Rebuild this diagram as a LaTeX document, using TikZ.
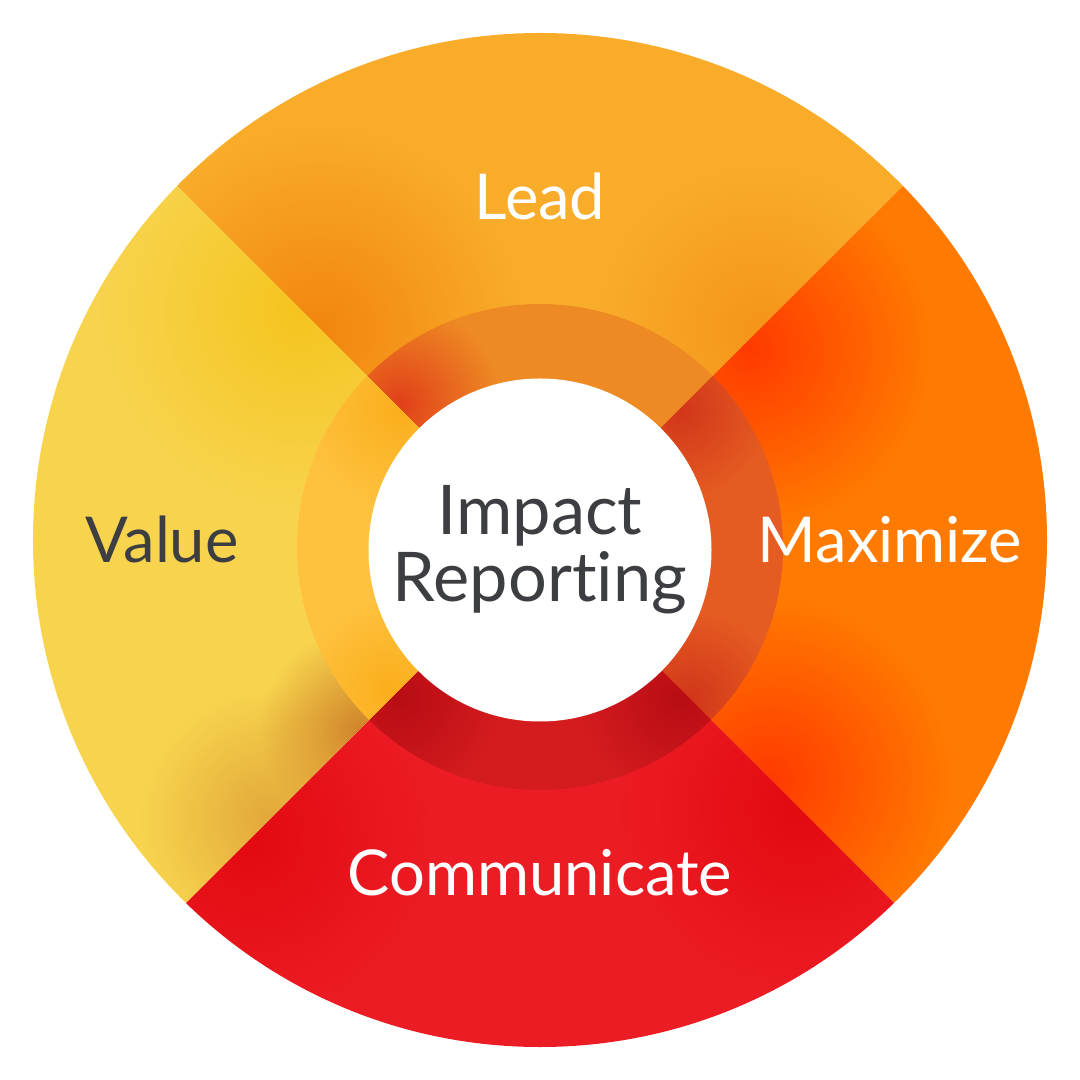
\documentclass[tikz,border=0pt]{standalone}
\usepackage{fontspec}
\setmainfont{Lato}[Ligatures=NoCommon]
\usetikzlibrary{fadings}
\tikzfading[name=glowfade, inner color=transparent!0, outer color=transparent!100]
\definecolor{leadbase}{HTML}{F9AC2A}
\definecolor{leadglow}{HTML}{F2860E}
\definecolor{leadring}{HTML}{EE8A24}
\definecolor{leadringglow}{HTML}{E2401A}
\definecolor{maxbase}{HTML}{FF7A00}
\definecolor{maxglow}{HTML}{FF3A00}
\definecolor{maxring}{HTML}{E55C22}
\definecolor{maxringglow}{HTML}{D2361A}
\definecolor{combase}{HTML}{EC1C24}
\definecolor{comglow}{HTML}{E30A10}
\definecolor{comring}{HTML}{D41C1E}
\definecolor{comringglow}{HTML}{B80D14}
\definecolor{valbase}{HTML}{F8D44E}
\definecolor{valglow}{HTML}{F5C41E}
\definecolor{valshadow}{HTML}{D0842A}
\definecolor{valring}{HTML}{FFC23F}
\definecolor{valringglow}{HTML}{FBAE1C}
\definecolor{labelgray}{HTML}{3D3E42}
\tikzset{
  quadlabel/.style={anchor=base, inner sep=0pt, text=white, font=\fontsize{18}{21}\selectfont},
  hublabel/.style={align=center, inner sep=0pt, text=labelgray, font=\fontsize{19.5}{19}\selectfont},
  glow/.style={path fading=glowfade},
}
\begin{document}
\begin{tikzpicture}
\useasboundingbox (-5.40,-5.31) rectangle (5.40,5.49);
\coordinate (hub) at (0,0);
\coordinate (rim) at (0,0.09);
\coordinate (ringc) at (0,0.02);
\begin{scope}
\clip (rim) circle (5.07);
% Lead
\begin{scope}
\clip (hub) -- (-6,6) -- (6,6) -- cycle;
\fill[leadbase] (-6,-1) rectangle (6,6);
\fill[leadglow, glow] (-2.2,2.2) circle (2.0);
\fill[leadglow!60!leadbase, glow] (2.2,2.2) circle (1.6);
\fill[leadring] (ringc) circle (2.43);
\clip (ringc) circle (2.43);
\fill[leadringglow, glow] (-1.4,1.45) circle (1.0);
\end{scope}
% Maximize
\begin{scope}
\clip (hub) -- (6,6) -- (6,-6) -- cycle;
\fill[maxbase] (-1,-6) rectangle (6,6);
\fill[maxglow, glow] (2.1,2.0) circle (1.8);
\fill[maxglow, glow] (2.3,-2.3) circle (1.8);
\fill[maxring] (ringc) circle (2.43);
\clip (ringc) circle (2.43);
\fill[maxringglow, glow] (1.4,1.4) circle (0.9);
\fill[maxringglow, glow] (1.5,-1.5) circle (0.9);
\end{scope}
% Communicate
\begin{scope}
\clip (hub) -- (6,-6) -- (-6,-6) -- cycle;
\fill[combase] (-6,-6) rectangle (6,1);
\fill[comglow, glow] (-2.9,-2.9) circle (1.8);
\fill[comglow, glow] (2.6,-2.6) circle (1.8);
\fill[comring] (ringc) circle (2.43);
\clip (ringc) circle (2.43);
\fill[comringglow, glow] (-1.4,-1.5) circle (1.0);
\fill[comringglow, glow] (1.4,-1.5) circle (1.0);
\end{scope}
% Value
\begin{scope}
\clip (hub) -- (-6,-6) -- (-6,6) -- cycle;
\fill[valbase] (-6,-6) rectangle (1,6);
\fill[valglow, glow] (-2.4,2.4) circle (2.0);
\fill[valshadow!55!valbase, glow] (-2.7,-2.7) circle (1.3);
\fill[valshadow, glow] (-1.8,-1.8) circle (1.0);
\fill[valring] (ringc) circle (2.43);
\clip (ringc) circle (2.43);
\fill[valringglow, glow] (-1.4,1.4) circle (1.0);
\fill[valringglow, glow] (-1.5,-1.4) circle (0.9);
\end{scope}
\end{scope}
\node[circle, fill=white, inner sep=0pt, minimum size=3.43cm] (core) at (0,-0.01) {};
\node[hublabel] (impact) at (core.center) {Impact\\Reporting};
\node[quadlabel] (lead) at (0,3.29) {Lead};
\node[quadlabel] (maximize) at (3.50,-0.14) {Maximize};
\node[quadlabel] (communicate) at (0,-3.46) {Communicate};
\node[quadlabel, text=labelgray] (value) at (-3.78,-0.14) {Value};
\end{tikzpicture}
\end{document}
